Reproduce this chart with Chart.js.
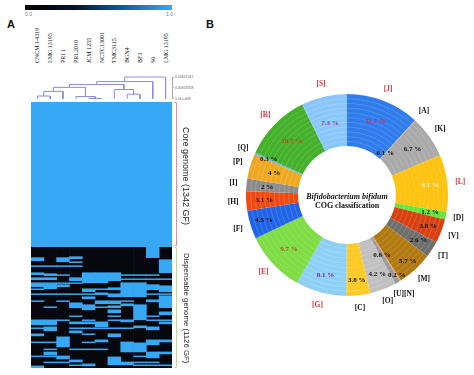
<!DOCTYPE html>
<html><head><meta charset="utf-8">
<script src="https://cdn.jsdelivr.net/npm/chart.js@4.4.1/dist/chart.umd.min.js"></script>
<style>
html,body{margin:0;padding:0;background:#fff}
body{width:474px;height:375px;position:relative;overflow:hidden;font-family:"Liberation Sans",Arial,sans-serif}
canvas,.t{position:absolute}
.t{white-space:nowrap;line-height:1}
.letter{font:bold 11px "Liberation Sans",Arial,sans-serif;color:#111}
.strain{font:6px "Liberation Serif","Times New Roman",serif;color:#111;transform-origin:0 0;transform:rotate(-90deg);line-height:6px}
.vert{writing-mode:vertical-rl;color:#222}
.ctr{width:120px;text-align:center;color:#111}
</style></head><body>
<div class="t letter" style="left:7px;top:18px">A</div>
<div class="t letter" style="left:206px;top:18px">B</div>
<div class="t" style="left:25px;top:5px;width:147px;height:5px;background:linear-gradient(to right,#000 0%,#06152b 35%,#1a63b8 72%,#35a9f5 100%)"></div>
<div class="t" style="left:25px;top:12px;font-size:5px;color:#777">0.0</div>
<div class="t" style="left:166px;top:12px;font-size:5px;color:#777">1.0</div>
<div id="strainLabels"></div>
<canvas id="dendro" width="169" height="30" style="left:31px;top:72px"></canvas>
<canvas id="heat" width="160" height="268" style="left:31px;top:101px"></canvas>
<div class="t vert" style="left:181px;top:127px;font-size:9px">Core genome (1342 GF)</div>
<div class="t vert" style="left:182px;top:253px;font-size:7.8px">Dispensable genome (1126 GF)</div>
<canvas id="cog" width="260" height="260" style="left:217px;top:65px"></canvas>
<div class="t ctr" style="left:287px;top:192px;font:italic bold 8px 'Liberation Serif',serif">Bifidobacterium bifidum</div>
<div class="t ctr" style="left:287px;top:201px;font:bold 8px 'Liberation Serif',serif">COG classification</div>
<script>
// ---------- DATA ----------
const strains = ["CNCM I-4319","LMG 13195","PRI 1","PRL2010","JCM 1255","NCTC13001","TMC3115","BGN4","BF3","S6","LMG 13195"];
const coreGF = 1342;
const dispensableGF = 1126;
// gene families of the dispensable genome present in each strain: [from, to] (index within dispensable block)
const presentRuns = [
  [[102,130],[177,185],[242,260],[288,307],[335,343],[344,372],[391,399],[437,445],[502,510],[679,725],[753,761],[809,828],[884,892],[1014,1022],[1107,1126]],
  [[177,185],[251,270],[288,307],[335,343],[344,391],[437,445],[558,566],[679,725],[744,781],[884,892],[949,957],[977,1004],[1014,1022],[1070,1078]],
  [[102,140],[177,185],[260,268],[335,343],[353,372],[437,445],[502,510],[679,687],[837,930],[1014,1022],[1023,1042],[1070,1078]],
  [[93,112],[140,149],[177,185],[288,316],[335,343],[437,445],[521,567],[642,650],[698,716],[753,761],[781,800],[949,957],[1051,1070],[1097,1105]],
  [[242,335],[391,399],[400,419],[437,445],[465,484],[539,586],[679,687],[698,716],[753,761],[809,817],[884,892],[949,957],[1088,1107]],
  [[242,335],[391,399],[428,446],[502,530],[558,566],[698,744],[753,761],[865,884],[949,957]],
  [[242,316],[381,400],[437,445],[446,465],[502,510],[512,530],[549,567],[586,614],[642,650],[679,687],[753,761],[809,837],[1023,1097]],
  [[260,268],[298,306],[335,465],[502,510],[530,549],[679,687],[688,698],[753,761],[884,892],[893,977],[1070,1097]],
  [[260,268],[298,306],[335,465],[539,679],[735,753],[893,977],[1014,1022],[1070,1078],[1097,1105]],
  [[0,102],[260,268],[298,306],[353,400],[437,445],[493,512],[642,650],[679,687],[744,772],[865,911],[977,1032],[1070,1078],[1097,1105]],
  [[121,242],[298,306],[363,419],[437,445],[456,567],[605,632],[679,687],[698,716],[865,884],[977,995],[1097,1105]]
];
// dendrogram merges: [childA, childB, height]; leaves are 0..10, merged nodes numbered from 11
const dendroMerges = [
  [4, 5, 0.00013],
  [3, 11, 0.00066],
  [0, 1, 0.0008],
  [7, 8, 0.0013],
  [13, 2, 0.0021],
  [6, 14, 0.0026],
  [15, 12, 0.0032],
  [17, 16, 0.0040],
  [18, 9, 0.0048],
  [19, 10, 0.00607417]
];
const dendroTicks = [0.0000000111, 0.00303708, 0.00607417];
const dendroTickLabels = ["1.11e-008", "0.00303708", "0.00607417"];

const cogCodes = ["J","A","K","L","D","V","T","M","N","U","O","C","G","E","F","H","I","P","Q","R","S"];
const cogPercent = [11.7,0.1,6.7,9.1,1.2,3.8,2.6,5.7,0.2,0.8,4.2,3.8,8.1,9.7,4.5,3.1,2,4,0.3,10.7,7.3];

// ---------- STYLE ----------
const BLUE = "#36a8f4", BLACK = "#06080d";
const cogColors = ["#2f7cec","#d9a88a","#a9a9a9","#ffc20e","#5fe83a","#d9400f","#6e6e6e","#b07a10","#f29070","#9a9a9a","#c0c0c0","#ffc926","#8dcff5","#7edc44","#2063e6","#f04a12","#8c8c8c","#eea820","#6ab4e8","#45b02a","#8ac6fa"];
const redCodes = ["J","L","E","G","R","S"];
const pctColors = {J:"#cc2a4a",S:"#9a3a8a",R:"#c04a10",E:"#b04a20",G:"#7a2a9a",L:"#fff2e0"};
const pctRadius = [0.58,0.15,0.6,0.67,0.69,0.73,0.69,0.79,0.87,0.4,0.69,0.71,0.65,0.58,0.73,0.65,0.6,0.52,0.71,0.54,0.48];

// ---------- PANEL A: heatmap ----------
const maxRuns = Math.max(...presentRuns.map(r => r.length));
const heatDatasets = [
  {data: strains.map(() => [0, coreGF]), backgroundColor: BLUE, order: 1}
];
for (let k = 0; k < maxRuns; k++) {
  heatDatasets.push({
    data: presentRuns.map(r => r[k] ? [coreGF + r[k][0], coreGF + r[k][1]] : null),
    backgroundColor: BLUE, order: 1
  });
}
// absent gene families: drawn underneath (highest order is drawn first)
heatDatasets.push({data: strains.map(() => [coreGF, coreGF + dispensableGF]), backgroundColor: BLACK, order: 2});

const bracketPlugin = {
  id: "brackets",
  afterDraw(chart) {
    const {ctx, chartArea: a, scales: {y}} = chart;
    const x = a.right + 4.5;
    const y0 = y.getPixelForValue(0), y1 = y.getPixelForValue(coreGF), y2 = y.getPixelForValue(coreGF + dispensableGF);
    ctx.save();
    ctx.lineWidth = 1;
    ctx.strokeStyle = "#f0889c";
    ctx.beginPath(); ctx.moveTo(x - 2, y0 + 0.5); ctx.lineTo(x, y0 + 0.5); ctx.lineTo(x, y1 - 1); ctx.lineTo(x - 2, y1 - 1); ctx.stroke();
    ctx.strokeStyle = "#b6e08c";
    ctx.beginPath(); ctx.moveTo(x - 2, y1 + 1); ctx.lineTo(x, y1 + 1); ctx.lineTo(x, y2 - 0.5); ctx.lineTo(x - 2, y2 - 0.5); ctx.stroke();
    ctx.restore();
  }
};
const heat = new Chart(document.getElementById("heat"), {
  type: "bar",
  data: {labels: strains, datasets: heatDatasets},
  options: {
    responsive: false, animation: false,
    layout: {padding: {left: 0, right: 19, top: 1, bottom: 1}},
    datasets: {bar: {grouped: false, barPercentage: 1, categoryPercentage: 1, borderWidth: 0, borderSkipped: false}},
    plugins: {legend: {display: false}, tooltip: {enabled: false}},
    scales: {
      x: {display: false},
      y: {display: false, min: 0, max: coreGF + dispensableGF, reverse: true}
    }
  },
  plugins: [bracketPlugin]
});

// strain labels positioned from the heatmap x scale
(function () {
  const holder = document.getElementById("strainLabels");
  const cv = document.getElementById("heat");
  const left0 = parseFloat(cv.style.left);
  strains.forEach((s, i) => {
    const px = left0 + heat.scales.x.getPixelForValue(i);
    const d = document.createElement("div");
    d.className = "t strain";
    d.textContent = s;
    d.style.left = (px - 3) + "px";
    d.style.top = "63px";
    holder.appendChild(d);
  });
})();

// ---------- dendrogram ----------
const nodeX = strains.map((_, i) => i), nodeH = strains.map(() => 0);
const dendroDatasets = dendroMerges.map(([a, b, h]) => {
  const pts = [{x: nodeX[a], y: nodeH[a]}, {x: nodeX[a], y: h}, {x: nodeX[b], y: h}, {x: nodeX[b], y: nodeH[b]}];
  nodeX.push((nodeX[a] + nodeX[b]) / 2); nodeH.push(h);
  return {data: pts, showLine: true, pointRadius: 0, borderColor: "#8c8cdc", borderWidth: 1, clip: 3};
});
new Chart(document.getElementById("dendro"), {
  type: "scatter",
  data: {datasets: dendroDatasets},
  options: {
    responsive: false, animation: false,
    layout: {padding: {left: 0, right: 0, top: 5, bottom: 1}},
    plugins: {legend: {display: false}, tooltip: {enabled: false}},
    scales: {
      x: {type: "linear", display: false, min: -0.5, max: strains.length - 0.5},
      y: {
        position: "right", min: 0, max: dendroTicks[2],
        afterBuildTicks: s => { s.ticks = dendroTicks.map(v => ({value: v})); },
        afterFit: s => { s.width = 28; },
        ticks: {font: {size: 3.5}, color: "#666", padding: 1, callback: (v, i) => dendroTickLabels[i]},
        grid: {drawOnChartArea: false, tickLength: 2, color: "#aaa"},
        border: {color: "#aaa"}
      }
    }
  }
});

// ---------- PANEL B: COG doughnut ----------
const ringStripes = {
  id: "ringStripes",
  afterDatasetsDraw(chart) {
    const arc = chart.getDatasetMeta(0).data[0];
    if (!arc) return;
    const {x, y, innerRadius, outerRadius} = arc;
    const ctx = chart.ctx;
    const n = strains.length;
    ctx.save();
    ctx.strokeStyle = "rgba(255,255,255,0.16)";
    ctx.lineWidth = 1;
    for (let i = 1; i < n; i++) {
      const r = innerRadius + (outerRadius - innerRadius) * i / n;
      ctx.beginPath(); ctx.arc(x, y, r, 0, Math.PI * 2); ctx.stroke();
    }
    ctx.restore();
  }
};
const cogLabels = {
  id: "cogLabels",
  afterDraw(chart) {
    const ctx = chart.ctx;
    const meta = chart.getDatasetMeta(0);
    ctx.save();
    ctx.textAlign = "center"; ctx.textBaseline = "middle";
    meta.data.forEach((arc, i) => {
      const {x, y, startAngle, endAngle, innerRadius, outerRadius} = arc;
      const mid = (startAngle + endAngle) / 2;
      const code = cogCodes[i];
      const r = innerRadius + (outerRadius - innerRadius) * pctRadius[i];
      ctx.font = "bold 7px 'Liberation Serif', serif";
      ctx.fillStyle = pctColors[code] || "#111";
      ctx.fillText(cogPercent[i] + " %", x + Math.cos(mid) * r, y + Math.sin(mid) * r);
      const txt = code === "U" ? "[U][N]" : code === "N" ? "" : "[" + code + "]";
      if (txt) {
        const ro = outerRadius + 13;
        ctx.font = "bold 7.5px 'Liberation Serif', serif";
        ctx.fillStyle = redCodes.includes(code) ? "#e2343f" : "#111";
        ctx.fillText(txt, x + Math.cos(mid) * ro, y + Math.sin(mid) * ro);
      }
    });
    ctx.restore();
  }
};
new Chart(document.getElementById("cog"), {
  type: "doughnut",
  data: {labels: cogCodes, datasets: [{data: cogPercent, backgroundColor: cogColors, borderWidth: 0}]},
  options: {
    responsive: false, animation: false, cutout: "48.5%",
    layout: {padding: 29},
    plugins: {legend: {display: false}, tooltip: {enabled: false}}
  },
  plugins: [ringStripes, cogLabels]
});
</script>
</body></html>
